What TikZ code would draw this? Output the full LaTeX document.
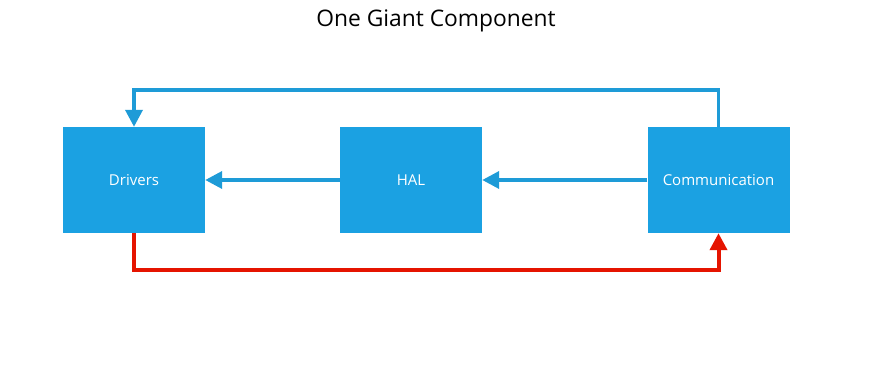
\documentclass[tikz,border=0pt]{standalone}
\usepackage{fontspec}
\setmainfont{Open Sans}
\usetikzlibrary{arrows.meta, positioning}

\definecolor{metroblue}{HTML}{1BA1E2}
\definecolor{metroline}{HTML}{1E9BD7}
\definecolor{metrored}{HTML}{E51400}

\begin{document}
\begin{tikzpicture}[x=1pt, y=-1pt,
  block/.style={fill=metroblue, text=white, minimum width=142pt, minimum height=106pt,
    inner sep=0pt, font=\fontsize{15}{18}\selectfont},
  blueflow/.style={draw=metroline, line width=3.6pt, -{Triangle[length=17pt, width=17pt]}},
  redflow/.style={draw=metrored, line width=4pt, -{Triangle[length=17pt, width=17pt]}}]

% canvas
\fill[white] (0,0) rectangle (872,377);
\useasboundingbox (0,0) rectangle (872,377);

% title
\node[anchor=base, font=\fontsize{22.8}{27}\selectfont] (title) at (436,27) {One Giant Component};

% components
\node[block] (drv) at (134,180) {Drivers};
\node[block] (hal) at (411,180) {HAL};
\node[block] (comm) at (718.5,180) {Communication};

% flows
\draw[blueflow] (comm.west) -- (hal.east);
\draw[blueflow] (hal.west) -- (drv.east);
\draw[blueflow] (comm.north) -- ++(0,-36.5) -| (drv.north);
\draw[redflow] (drv.south) -- ++(0,36.5) -| (comm.south);

\end{tikzpicture}
\end{document}
